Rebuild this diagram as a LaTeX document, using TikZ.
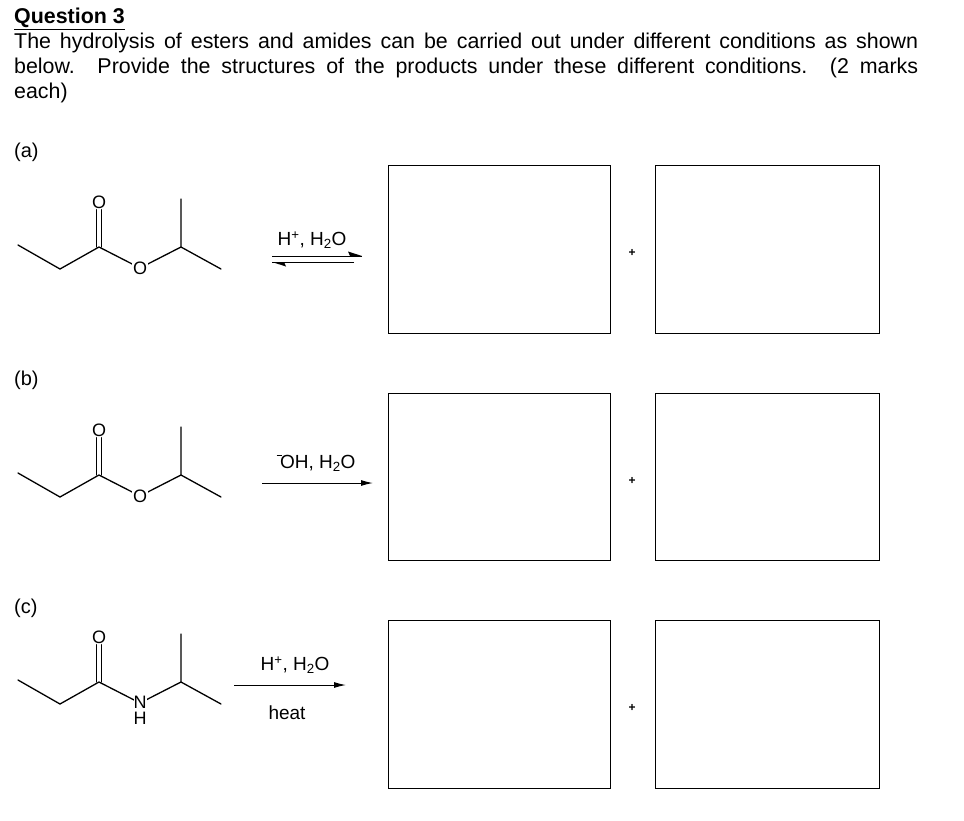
\documentclass[tikz,border=0pt]{standalone}
\usepackage{fontspec}
\setmainfont{Liberation Sans}
\usetikzlibrary{arrows.meta}
\begin{document}
\begin{tikzpicture}[x=1pt,y=-1pt,
 bond/.style={line width=1.3pt,line cap=round},
 atom/.style={font=\fontsize{18}{18}\selectfont,inner sep=1pt,fill=white},
 lab/.style={font=\fontsize{19}{21}\selectfont,inner sep=0pt},
 ansbox/.style={draw,line width=1pt},
 rxn/.style={line width=1pt}]
\useasboundingbox (0,0) rectangle (964,820);
\node[anchor=north west,inner sep=0pt,text width=904pt,align=justify,font=\fontsize{21.4}{25}\selectfont] (q) at (14,8)
 {\textbf{\underline{Question 3}}\\The hydrolysis of esters and amides can be carried out under different conditions as shown\linebreak below. Provide the structures of the products under these different conditions. (2 marks\linebreak each)};
\foreach \dy/\nm in {0/a,228/b,435/c}{
 \begin{scope}[yshift=-\dy pt]
  \coordinate (p1\nm) at (18,245); \coordinate (p2\nm) at (60,269); \coordinate (p3\nm) at (99,247);
  \coordinate (p5\nm) at (181,247); \coordinate (p6\nm) at (181,199); \coordinate (p7\nm) at (221,269);
  \coordinate (ox\nm) at (140,268);
  \node[atom] (oc\nm) at (99,202) {O};
  \draw[bond] (p1\nm)--(p2\nm)--(p3\nm)--(ox\nm)--(p5\nm)--(p7\nm) (p5\nm)--(p6\nm);
  \draw[bond] ([xshift=-2.5pt]p3\nm)--([xshift=-2.5pt]oc\nm.south);
  \draw[bond] ([xshift=2.5pt]p3\nm)--([xshift=2.5pt]oc\nm.south);
 \end{scope}}
\node[atom] (oxa) at (140,268) {O};
\node[atom] (oxb) at (140,496) {O};
\node[atom,inner sep=0pt] (nc) at (140,702) {N};
\node[atom,fill=none,inner sep=0pt,anchor=north] (hc) at (140,712) {H};
% labels
\node[lab,anchor=west,font=\fontsize{20}{22}\selectfont] (la) at (14,152) {(a)};
\node[lab,anchor=west,font=\fontsize{20}{22}\selectfont] (lb) at (14,380) {(b)};
\node[lab,anchor=west,font=\fontsize{20}{22}\selectfont] (lc) at (14,608) {(c)};
% equilibrium arrows
\coordinate (a1) at (272,256); \coordinate (a2) at (362,256);
\coordinate (a3) at (354,262); \coordinate (a4) at (272,262);
\draw[rxn] (a1)--(a2);
\fill (a2) -- ++(-14,-4.5) -- ++(2,4.5) -- cycle;
\draw[rxn] (a3)--(a4);
\fill (a4) -- ++(14,4.5) -- ++(-2,-4.5) -- cycle;
\node[lab] (ca) at (312,240) {H\textsuperscript{+}, H\textsubscript{2}O};
\coordinate (b1) at (262,483); \coordinate (b2) at (373,483);
\draw[rxn,-{Latex[length=12pt,width=6pt]}] (b1)--(b2);
\node[lab] (cb) at (316,463) {\textsuperscript{\rule[0.9ex]{5pt}{0.8pt}}\hspace{-2pt}OH, H\textsubscript{2}O};
\coordinate (c1) at (234,685); \coordinate (c2) at (346,685);
\draw[rxn,-{Latex[length=12pt,width=6pt]}] (c1)--(c2);
\node[lab] (cc) at (295,665) {H\textsuperscript{+}, H\textsubscript{2}O};
\node[lab] (ch) at (287,713) {heat};
% boxes
\foreach \y/\h/\nm in {165/333/a,393/560/b,620/788/c}{
 \draw[ansbox] (388,\y) rectangle (610,\h);
 \draw[ansbox] (655,\y) rectangle (879,\h);
 \node[font=\fontsize{12}{12}\selectfont\bfseries] (plus\nm) at (632,{(\y+\h)/2+4}) {+};
}
\end{tikzpicture}
\end{document}
